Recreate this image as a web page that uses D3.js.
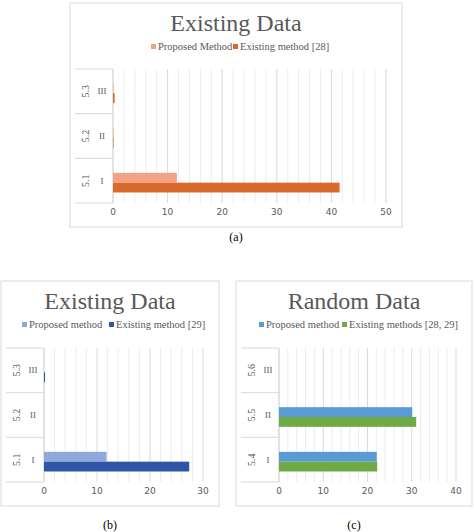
<!DOCTYPE html>
<html><head><meta charset="utf-8">
<script src="https://cdn.jsdelivr.net/npm/d3@7"></script>
<style>body{margin:0;background:#fff}text{font-family:"Liberation Serif",serif;fill:#595959}</style>
</head><body>
<script>
// data
var groupsA = ['5.1', '5.2', '5.3'];
var subA = ['I', 'II', 'III'];
var proposedA = [11.7, 0.1, 0.1];
var existingA = [41.5, 0.1, 0.3];

var groupsB = ['5.1', '5.2', '5.3'];
var subB = ['I', 'II', 'III'];
var proposedB = [11.8, 0, 0];
var existingB = [27.4, 0, 0.2];

var groupsC = ['5.4', '5.5', '5.6'];
var subC = ['I', 'II', 'III'];
var proposedC = [22.1, 30.1, 0];
var existingC = [22.2, 31, 0];

var svg = d3.select('body').append('svg').attr('width', 474).attr('height', 532);

function drawChart(cfg) {
  var g = svg.append('g');
  g.append('rect').attr('x', cfg.box[0]).attr('y', cfg.box[1])
    .attr('width', cfg.box[2]).attr('height', cfg.box[3])
    .attr('fill', '#fff').attr('stroke', '#d9d9d9');
  var cx = cfg.box[0] + cfg.box[2] / 2;
  g.append('text').attr('x', cx).attr('y', cfg.box[1] + 28)
    .attr('text-anchor', 'middle').style('font-size', '24px').text(cfg.title);

  // legend
  var leg = g.append('g');
  var lx = cx - cfg.legW / 2, ly = cfg.box[1] + 47;
  cfg.names.forEach(function(n, i) {
    var x = lx + cfg.legOff[i];
    leg.append('rect').attr('x', x).attr('y', ly - 6).attr('width', 5).attr('height', 5).attr('fill', cfg.colors[i]);
    leg.append('text').attr('x', x + 7).attr('y', ly).style('font-size', '10.5px').text(n);
  });

  var x = d3.scaleLinear().domain([0, cfg.max]).range([cfg.x0, cfg.x1]);
  var y = d3.scaleBand().domain(cfg.groups.slice().reverse()).range([cfg.y0, cfg.y1]);
  var top = cfg.y0, bot = cfg.y1;

  // gridlines (minor every 2, major every 10)
  d3.range(0, cfg.max + 0.01, 2).forEach(function(v) {
    g.append('line').attr('x1', x(v)).attr('x2', x(v)).attr('y1', top).attr('y2', bot)
      .attr('stroke', v % 10 === 0 ? '#d9d9d9' : '#ececec').attr('stroke-width', 1);
  });
  // label column lines
  var lab0 = cfg.x0 - 38;
  g.append('line').attr('x1', cfg.x0).attr('x2', cfg.x0).attr('y1', top).attr('y2', bot).attr('stroke', '#d9d9d9');
  d3.range(0, cfg.groups.length + 1).forEach(function(i) {
    var yy = top + i * y.step();
    g.append('line').attr('x1', lab0).attr('x2', cfg.x0).attr('y1', yy).attr('y2', yy).attr('stroke', '#d9d9d9');
  });

  cfg.groups.forEach(function(gr, i) {
    var yc = y(gr) + y.bandwidth() / 2;
    g.append('text').attr('transform', 'translate(' + (lab0 + 10) + ',' + yc + ') rotate(-90)')
      .attr('text-anchor', 'middle').attr('dy', '0.35em').style('font-size', '10px').text(gr);
    g.append('text').attr('x', lab0 + 27).attr('y', yc).attr('dy', '0.35em')
      .attr('text-anchor', 'middle').style('font-size', '9px').text(cfg.subs[i]);
  });

  var bh = y.bandwidth() * 0.22;
  [cfg.proposed, cfg.existing].forEach(function(vals, s) {
    g.selectAll(null).data(vals).enter().append('rect')
      .attr('x', x(0))
      .attr('y', function(d, i) { return y(cfg.groups[i]) + y.bandwidth() / 2 - bh + s * bh + 2; })
      .attr('width', function(d) { return x(d) - x(0); })
      .attr('height', bh)
      .attr('fill', cfg.colors[s]);
  });

  var ax = g.append('g').attr('transform', 'translate(0,' + (bot + 12) + ')');
  ax.selectAll('text').data(d3.range(0, cfg.max + 0.01, 10)).enter().append('text')
    .attr('x', function(d) { return x(d); }).attr('text-anchor', 'middle').style('font-size', '10px')
    .style('font-family', 'DejaVu Sans').style('font-size', '9px')
    .text(function(d) { return d; });

  svg.append('text').attr('x', cx).attr('y', cfg.capY).attr('text-anchor', 'middle')
    .style('font-size', '12px').style('fill', '#000').text(cfg.caption);
}

drawChart({box: [70, 3, 332, 224], title: 'Existing Data', names: ['Proposed Method', 'Existing method [28]'],
  legW: 170, legOff: [0, 82], colors: ['#F2A383', '#D96A2C'], groups: groupsA, subs: subA,
  proposed: proposedA, existing: existingA, max: 50, x0: 113, x1: 386, y0: 69, y1: 203, capY: 241, caption: '(a)'});
drawChart({box: [1, 281, 218, 225], title: 'Existing Data', names: ['Proposed method', 'Existing method [29]'],
  legW: 176, legOff: [0, 87], colors: ['#8FA9DC', '#2F56A6'], groups: groupsB, subs: subB,
  proposed: proposedB, existing: existingB, max: 30, x0: 44, x1: 203, y0: 348, y1: 482, capY: 529, caption: '(b)'});
drawChart({box: [236, 281, 236, 225], title: 'Random Data', names: ['Proposed method', 'Existing methods [28, 29]'],
  legW: 190, legOff: [0, 83], colors: ['#5B9BD5', '#6EAB45'], groups: groupsC, subs: subC,
  proposed: proposedC, existing: existingC, max: 40, x0: 279, x1: 456, y0: 348, y1: 482, capY: 529, caption: '(c)'});
</script>
</body></html>
